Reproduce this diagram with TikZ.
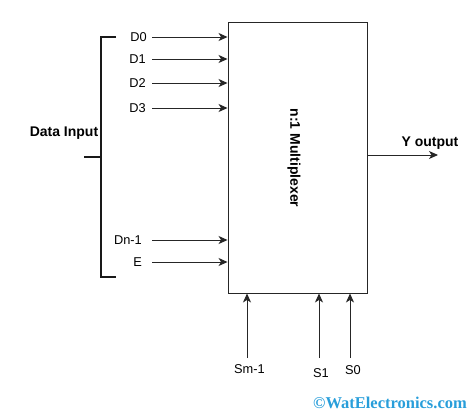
\documentclass[tikz,border=0pt]{standalone}
\usepackage{fontspec}
\setmainfont{Liberation Sans}
\newfontfamily\wmfont{Liberation Serif}
\usepackage{tikz}
\usetikzlibrary{arrows.meta,positioning,calc}
\usepackage{xcolor}
\definecolor{wmblue}{RGB}{40,158,218}

\begin{document}
\begin{tikzpicture}[
    x=1pt, y=-1pt,
    muxbox/.style={draw=black!85, line width=0.9pt, minimum width=139pt, minimum height=271pt, inner sep=0pt},
    inlabel/.style={font=\fontsize{12.8}{14}\selectfont, inner sep=0pt},
    biglabel/.style={font=\bfseries\fontsize{14}{16}\selectfont, inner sep=0pt},
    sigarrow/.style={-{Stealth[length=9pt, width=8pt, inset=2.5pt]}, line width=0.9pt, draw=black!85},
    bracket/.style={line width=2pt, draw=black!90}
]
\useasboundingbox (0,0) rectangle (474,418);

% multiplexer block
\node[muxbox] (mux) at (297.5,157.5) {};
\node[biglabel, rotate=-90] (muxname) at (294,158) {n:1 Multiplexer};

% data inputs
\node[inlabel, anchor=east] (d0) at (147,37) {D0};
\node[inlabel, anchor=east] (d1) at (146,59) {D1};
\node[inlabel, anchor=east] (d2) at (146,83) {D2};
\node[inlabel, anchor=east] (d3) at (146,108) {D3};
\node[inlabel, anchor=east] (dn) at (142,240) {Dn-1};
\node[inlabel, anchor=east] (en) at (142,262) {E};

\draw[sigarrow] ([xshift=5pt]d0.east) -- (d0 -| mux.west);
\draw[sigarrow] ([xshift=6pt]d1.east) -- (d1 -| mux.west);
\draw[sigarrow] ([xshift=6pt]d2.east) -- (d2 -| mux.west);
\draw[sigarrow] ([xshift=6pt]d3.east) -- (d3 -| mux.west);
\draw[sigarrow] ([xshift=10pt]dn.east) -- (dn -| mux.west);
\draw[sigarrow] ([xshift=10pt]en.east) -- (en -| mux.west);

% bracket for the data inputs
\coordinate (brtop) at (116,37);
\coordinate (brbot) at (116,277);
\coordinate (brmid) at (84,157);
\draw[bracket] (brtop) -- (101,37) -- (101,277) -- (brbot);
\draw[bracket] (brmid) -- (101,157);
\node[biglabel] (datain) at (64,133) {Data Input};

% select lines
\coordinate (smin) at (247,358);
\coordinate (s1in) at (319,358);
\coordinate (s0in) at (350,358);
\node[inlabel] (sm) at (249.5,369) {Sm-1};
\node[inlabel] (s1) at (321,373) {S1};
\node[inlabel] (s0) at (353,370) {S0};
\draw[sigarrow] (smin) -- (smin |- mux.south);
\draw[sigarrow] (s1in) -- (s1in |- mux.south);
\draw[sigarrow] (s0in) -- (s0in |- mux.south);

% output
\coordinate (yend) at (438,155);
\draw[sigarrow] (yend -| mux.east) -- (yend);
\node[biglabel] (yout) at (430,143) {Y output};

% watermark
\node[font=\wmfont\bfseries\fontsize{16.5}{18}\selectfont, text=wmblue, inner sep=0pt] (mark) at (390,403) {©WatElectronics.com};
\end{tikzpicture}
\end{document}
